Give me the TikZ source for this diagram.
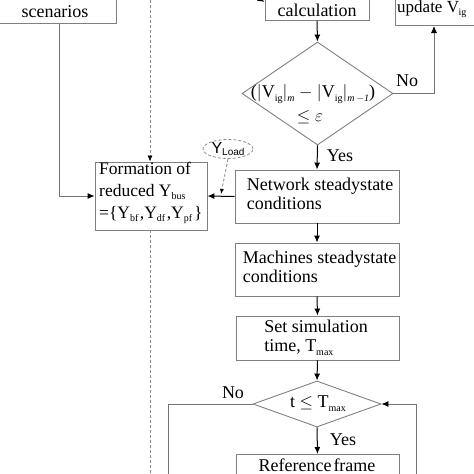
\documentclass[tikz,border=0pt]{standalone}
\usepackage{fontspec}
\setmainfont{Liberation Serif}
\newfontfamily\sansf{Liberation Sans}
\usetikzlibrary{shapes.geometric,arrows.meta,calc}
\newcommand{\sbs}[1]{\raisebox{-0.45ex}{\fontsize{10}{10}\selectfont #1}}
\tikzset{
  box/.style={draw=black!50, line width=0.9pt, rectangle, inner sep=0pt},
  dia/.style={draw=black!50, line width=0.9pt, diamond, inner sep=0pt},
  txt/.style={font=\fontsize{18}{19}\selectfont, inner sep=0pt, align=left},
  lbl/.style={font=\fontsize{18}{19}\selectfont, inner sep=0pt},
  arr/.style={draw=black, line width=1pt, -{Latex[length=7pt,width=6pt]}},
  gline/.style={draw=black!55, line width=0.9pt},
  garr/.style={draw=black!55, line width=0.9pt, -{Latex[length=7pt,width=6pt,color=black]}},
  dline/.style={draw=black!45, line width=0.8pt, dash pattern=on 3pt off 2pt},
}
\begin{document}
\begin{tikzpicture}[x=1pt,y=-1pt]
\useasboundingbox (0,0) rectangle (474,474);
% top partial boxes
\node[box, minimum width=180pt, minimum height=70pt, anchor=south east] (scen) at (117,24) {};
\node[lbl] (scent) at (55,12) {scenarios};
\node[box, minimum width=104pt, minimum height=70pt, anchor=south] (calc) at (317,21) {};
\node[lbl] (calct) at (317,10) {calculation};
\node[box, minimum width=120pt, minimum height=70pt, anchor=south west] (upd) at (395,26) {};
\node[lbl, anchor=west, font=\fontsize{17}{18}\selectfont] (updt) at (397,9) {update V\hspace{-0.5pt}\sbs{ig}};
% diamond 1
\node[dia, minimum width=151pt, minimum height=103pt] (d1) at (317.5,93.5) {};
\node[lbl] (d1a) at (313,94) {($\big|$V\sbs{ig}$\big|$\sbs{\itshape m} $-$ $\big|$V\sbs{ig}$\big|$\sbs{\itshape m$\,-$1})};
\node[lbl] (d1b) at (310,117) {$\leq\varepsilon$};
% main boxes
\node[box, minimum width=164pt, minimum height=53pt] (net) at (317,196.5) {};
\node[txt] (nett) at (320,194) {Network steadystate\\conditions};
\node[box, minimum width=164pt, minimum height=53pt] (mach) at (317,269.5) {};
\node[txt] (macht) at (319.5,267) {Machines steadystate\\conditions};
\node[box, minimum width=163pt, minimum height=44pt] (sim) at (317.5,338) {};
\node[txt] (simt) at (316,338) {Set simulation\\time, T\sbs{max}};
\node[dia, minimum width=128pt, minimum height=46pt] (d2) at (317,404) {};
\node[lbl] (d2t) at (318,404) {t $\leq$ T\sbs{max}};
\node[box, minimum width=163pt, minimum height=60pt, anchor=north] (ref) at (317.5,454) {};
\node[lbl] (reft) at (317,465) {Reference\hspace{2pt}frame};
% formation box
\node[box, minimum width=112pt, minimum height=68pt] (form) at (151,196) {};
\node[txt, anchor=west, font=\fontsize{17.5}{22}\selectfont] (formt) at (99,193) {Formation of\\reduced Y\sbs{bus}\\=\{Y\sbs{bf}\hspace{1.5pt},Y\sbs{df}\hspace{1.5pt},Y\sbs{pf}\hspace{2pt}\}};
% Y load
\node[ellipse, dline, minimum width=50pt, minimum height=19pt, inner sep=0pt] (yl) at (228,149) {};
\node[font=\sansf\fontsize{16}{16}\selectfont, inner sep=0pt] (ylt) at (228,149) {Y\raisebox{-0.3ex}{\fontsize{10}{10}\selectfont Load}};
% connectors
\coordinate (scen0) at ($(scen.south east)+(-58,0)$);
\draw[garr] (scen0) |- (form.west);
\coordinate (dtop) at (150,0);
\coordinate (dbot) at (150,480);
\draw[dline, -{Latex[length=6pt,width=5pt,color=black]}] (dtop) -- (form.north -| dtop);
\draw[dline] (form.south -| dtop) -- (dbot);
\coordinate (ylend) at (221,194);
\draw[dline, -{Latex[length=5pt,width=4pt,color=black]}] (yl.south) -- (ylend);
\draw[arr] (net.west) -- (form.east);
\coordinate (cin) at (252,-6);
\draw[arr] (cin) -- ($(calc.south west)+(0,-19)$);
\draw[arr] (calc.south) -- (d1.north);
\coordinate (updin) at ($(upd.south west)+(39,0)$);
\draw[gline, -{Latex[length=7pt,width=6pt,color=black]}] (d1.east) -| (updin);
\node[lbl] (no1) at (407,81) {No};
\draw[arr] (d1.south) -- (net.north);
\node[lbl] (yes1) at (340,156) {Yes};
\draw[arr] (net.south) -- (mach.north);
\draw[arr] (mach.south) -- (sim.north);
\draw[arr] (sim.south) -- (d2.north);
\draw[arr] (d2.south) -- (ref.north);
\node[lbl] (yes2) at (343,440) {Yes};
\coordinate (nol) at (168,480);
\draw[gline] (d2.west) -| (nol);
\node[lbl] (no2) at (233,393) {No};
\coordinate (retr) at (416,480);
\draw[gline, -{Latex[length=7pt,width=6pt,color=black]}] (retr) |- (d2.east);
\end{tikzpicture}
\end{document}
